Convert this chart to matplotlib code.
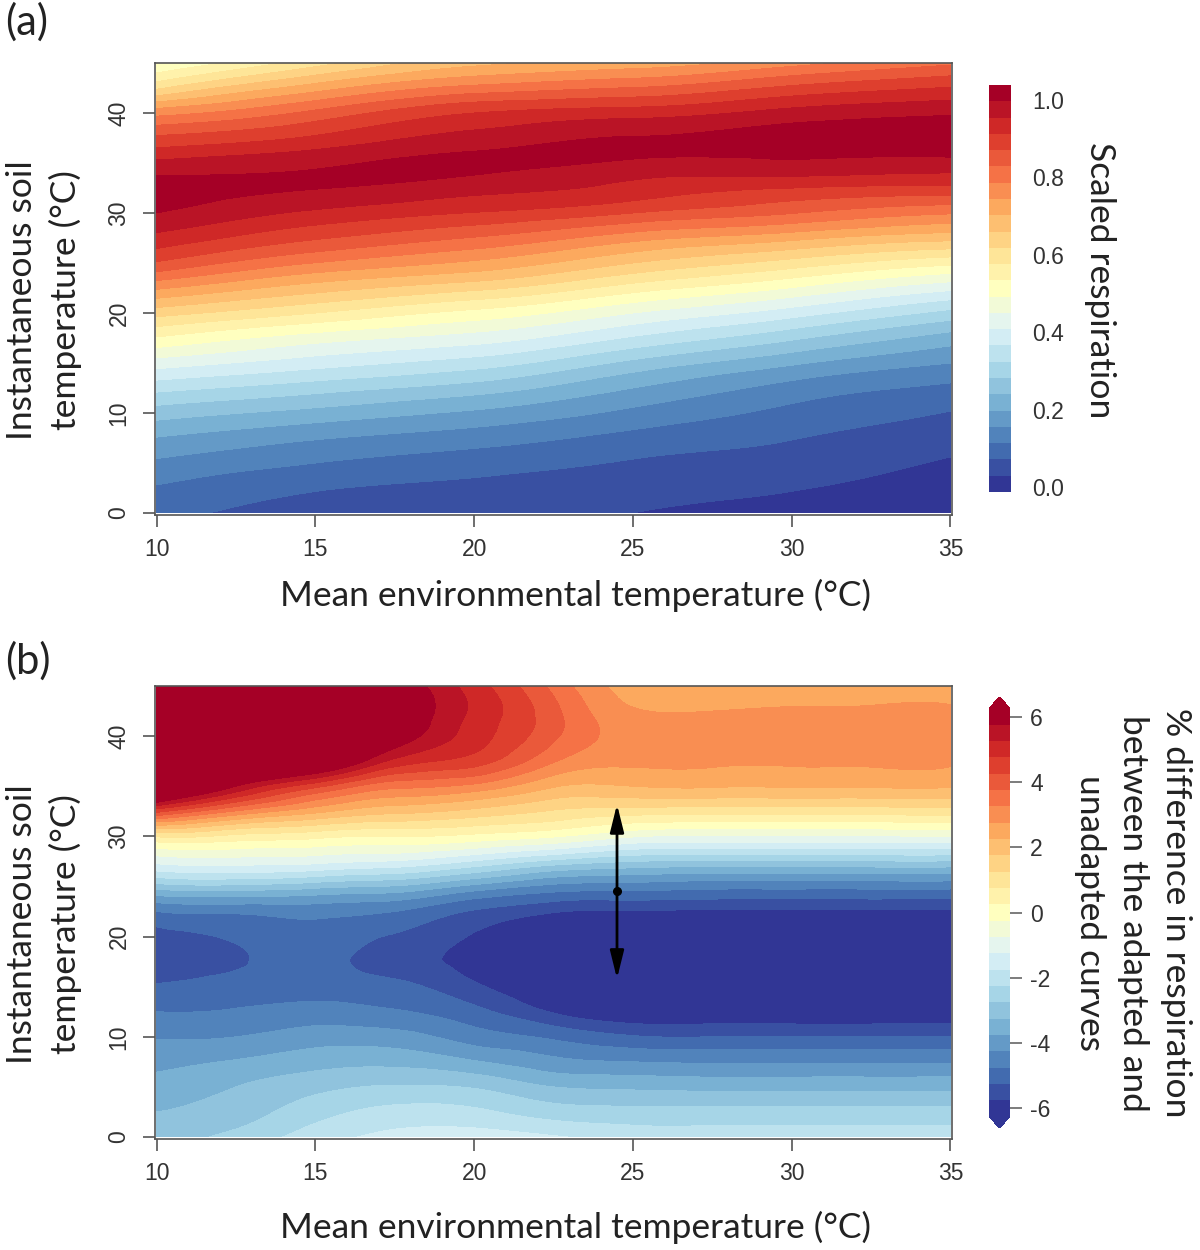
import numpy as np
import matplotlib
matplotlib.use('Agg')
import matplotlib.pyplot as plt
import matplotlib.tri as mtri
from matplotlib.cm import ScalarMappable
from matplotlib.colors import BoundaryNorm, ListedColormap

plt.rcParams['font.family'] = ['Liberation Sans', 'DejaVu Sans']

W, H = 1200, 1250
INK = '#333333'
LABEL_FONT = 'Lato'

# each list is one column of soil temperatures
soil_temp_a = [0, 2.5, 5, 7.5, 10, 12.5, 15, 17.5, 20, 22.5, 25, 27.5, 30, 32, 34, 36, 38, 40, 42.5, 45]
env_temp_a = [10, 15, 20, 25, 30, 35]
resp_10 = [.08, .11, .148, .196, .26, .338, .43, .53, .635, .75, .865, .94, .996, 1.015, .99, .93, .86, .77, .61, .49]
resp_15 = [.055, .076, .114, .16, .225, .30, .385, .47, .576, .68, .785, .875, .945, .99, 1.0, .964, .905, .84, .725, .60]
resp_20 = [.04, .062, .09, .134, .19, .262, .345, .43, .52, .63, .735, .825, .91, .96, .999, .999, .96, .912, .80, .69]
resp_25 = [.03, .047, .068, .10, .145, .198, .27, .36, .45, .555, .66, .76, .87, .93, .968, 1.005, .99, .935, .83, .72]
resp_30 = [.01, .033, .052, .074, .102, .14, .205, .29, .385, .49, .60, .715, .83, .895, .965, 1.005, 1.01, .97, .88, .77]
resp_35 = [-.005, .01, .025, .048, .07, .105, .156, .22, .31, .42, .545, .675, .79, .88, .954, 1.005, 1.03, .99, .915, .82]

soil_temp_b = [0, 2.5, 5, 7.5, 10, 12.5, 15, 17.5, 20, 22.5, 25, 27.5, 30, 32.5, 35, 37.5, 40, 42.5, 45]
env_temp_b = [10, 12.5, 15, 17.5, 20, 22.5, 25, 27.5, 30, 32.5, 35]
diff_100 = [-3.0, -3.25, -3.55, -3.9, -4.3, -4.75, -5.2, -5.5, -5.4, -4.75, -3.0, -1.1, .8, 4.4, 7.5, 8.0, 8.5, 8.5, 8.0]
diff_125 = [-2.6, -3.0, -3.25, -3.7, -4.25, -4.7, -5.05, -5.3, -5.2, -4.65, -2.9, -1.0, .6, 3.2, 5.75, 7.5, 8.8, 8.8, 8.3]
diff_150 = [-2.0, -2.45, -2.9, -3.45, -4.0, -4.55, -4.95, -5.1, -5.0, -4.55, -3.1, -1.1, .4, 2.4, 4.4, 7.0, 8.2, 8.3, 7.8]
diff_175 = [-1.6, -2.1, -2.7, -3.4, -4.05, -4.7, -5.1, -5.5, -5.3, -4.75, -3.3, -1.3, .25, 1.9, 3.4, 5.1, 6.2, 6.5, 6.3]
diff_200 = [-1.5, -2.15, -2.8, -3.7, -4.5, -5.1, -5.65, -5.95, -5.8, -5.3, -3.9, -1.8, .1, 1.6, 3.1, 4.5, 5.0, 5.15, 5.0]
diff_225 = [-1.7, -2.5, -3.25, -4.1, -4.85, -5.8, -6.4, -6.7, -6.5, -5.7, -4.4, -2.4, -.2, 1.2, 2.3, 3.3, 3.85, 3.9, 3.6]
diff_250 = [-1.95, -2.6, -3.35, -4.25, -5.2, -6.2, -6.8, -7.0, -6.8, -5.8, -4.5, -2.75, -.7, 1.0, 2.25, 2.85, 3.05, 2.8, 2.55]
diff_275 = [-2.0, -2.6, -3.4, -4.3, -5.25, -6.2, -6.9, -7.2, -6.9, -5.85, -4.6, -2.8, -.8, .95, 2.3, 2.82, 3.0, 2.75, 2.5]
diff_300 = [-2.0, -2.6, -3.4, -4.3, -5.25, -6.2, -6.9, -7.2, -6.9, -5.85, -4.6, -2.8, -.8, .95, 2.3, 2.82, 3.0, 2.8, 2.55]
diff_325 = [-2.0, -2.6, -3.4, -4.3, -5.25, -6.2, -6.9, -7.2, -6.9, -5.85, -4.6, -2.8, -.8, .95, 2.3, 2.82, 3.0, 2.82, 2.55]
diff_350 = [-2.0, -2.6, -3.4, -4.3, -5.25, -6.2, -6.9, -7.2, -6.9, -5.85, -4.6, -2.8, -.75, 1.0, 2.3, 2.82, 3.0, 2.82, 2.55]

x_ticks = [10, 15, 20, 25, 30, 35]
y_ticks = [0, 10, 20, 30, 40]
cbar_ticks_a = [0, 0.2, 0.4, 0.6, 0.8, 1.0]
cbar_ticks_b = [-6, -4, -2, 0, 2, 4, 6]

levels_a = np.linspace(-0.012, 1.038, 26)
levels_b = np.linspace(-6.25, 6.25, 26)
arrow_x, arrow_mid, arrow_top, arrow_bottom = 24.5, 24.5, 33.2, 15.8


def px_axes(fig, left, top, right, bottom):
    '''Axes from pixel edges, y counted from the top'''
    return fig.add_axes([left/W, 1-bottom/H, (right-left)/W, (bottom-top)/H])


def smooth_contour(ax, xs, ys, rows, levels, cmap, norm):
    '''Filled contours on the read-off table, smoothed with matplotlib's refiner'''
    gx, gy = np.meshgrid(xs, ys)
    tri = mtri.Triangulation(gx.ravel(), gy.ravel())
    refiner = mtri.UniformTriRefiner(tri)
    fine_tri, fine_z = refiner.refine_field(np.array(rows).T.ravel(), subdiv=4)
    ax.tricontourf(fine_tri, fine_z, levels=levels, cmap=cmap, norm=norm, extend='both')


def style_axes(ax, bottom_lim):
    ax.set_xlim(9.95, 35.05)
    ax.set_ylim(bottom_lim, 45)
    ax.set_xticks(x_ticks)
    ax.set_yticks(y_ticks)
    ax.tick_params(axis='both', length=8.6, width=1.2, color='#555555', labelcolor=INK, labelsize=16.5)
    ax.tick_params(axis='x', pad=8)
    ax.tick_params(axis='y', pad=9)
    for t in ax.get_yticklabels():
        t.set_rotation(90)
        t.set_va('center')
    for s in ax.spines.values():
        s.set_color('#555555')
        s.set_linewidth(1.2)


def make_cmap():
    cols = plt.get_cmap('RdYlBu_r', 25)(np.arange(25))
    cmap = ListedColormap(cols)
    cmap.set_under(cols[0])
    cmap.set_over(cols[-1])
    return cmap


fig = plt.figure(figsize=(W/100, H/100), dpi=100)
cmap = make_cmap()

# panel a
norm_a = BoundaryNorm(levels_a, 25)
ax_a = px_axes(fig, 155, 63, 952, 515)
smooth_contour(ax_a, env_temp_a, soil_temp_a, [resp_10, resp_15, resp_20, resp_25, resp_30, resp_35],
               levels_a, cmap, norm_a)
style_axes(ax_a, -0.2)

cax_a = px_axes(fig, 989, 85, 1011, 492)
cb_a = fig.colorbar(ScalarMappable(norm=norm_a, cmap=cmap), cax=cax_a, spacing='proportional', ticks=cbar_ticks_a)
cb_a.ax.minorticks_off()
cb_a.ax.set_yticklabels(['0.0', '0.2', '0.4', '0.6', '0.8', '1.0'])
cb_a.ax.tick_params(length=0, pad=15, labelsize=16.5, labelcolor=INK)
cb_a.outline.set_visible(False)

# panel b
norm_b = BoundaryNorm(levels_b, 25)
ax_b = px_axes(fig, 155, 686, 952, 1139)
smooth_contour(ax_b, env_temp_b, soil_temp_b,
               [diff_100, diff_125, diff_150, diff_175, diff_200, diff_225,
                diff_250, diff_275, diff_300, diff_325, diff_350],
               levels_b, cmap, norm_b)
style_axes(ax_b, -0.2)

for tip in (arrow_top, arrow_bottom):
    ax_b.annotate('', xy=(arrow_x, tip), xytext=(arrow_x, arrow_mid),
                  arrowprops=dict(arrowstyle='-|>,head_length=1.05,head_width=0.26', color='black',
                                  lw=2, shrinkA=0, shrinkB=0, mutation_scale=16))
ax_b.plot([arrow_x], [arrow_mid], 'o', color='black', ms=5.5)

cax_b = px_axes(fig, 989, 697, 1010, 1128)
cb_b = fig.colorbar(ScalarMappable(norm=norm_b, cmap=cmap), cax=cax_b, spacing='proportional',
                    ticks=cbar_ticks_b, extend='both', extendfrac=0.028)
cb_b.ax.minorticks_off()
cb_b.ax.tick_params(length=8.6, width=1.2, color='#666666', pad=6, labelsize=16.5, labelcolor=INK)
cb_b.ax.set_yticklabels(['-6', '-4', '-2', '0', '2', '4', '6'])
cb_b.outline.set_visible(False)

# texts
def label(x, y, s, rot=0, size=25.5, ha='center', va='center', ls=1.42):
    fig.text(x/W, 1-y/H, s, rotation=rot, fontsize=size, ha=ha, va=va, family=LABEL_FONT,
             color='#222222', linespacing=ls, multialignment='center')


label(5, 22, '(a)', ha='left', size=30)
label(5, 661, '(b)', ha='left', size=30)
label(575, 595, 'Mean environmental temperature (°C)')
label(575, 1227, 'Mean environmental temperature (°C)')
label(44, 300, 'Instantaneous soil\ntemperature (°C)', rot=90)
label(44, 924, 'Instantaneous soil\ntemperature (°C)', rot=90)
label(1100, 280, 'Scaled respiration', rot=-90)
label(1133, 913, '% difference in respiration\nbetween the adapted and\nunadapted curves', rot=-90)

fig.savefig('out.png', dpi=100)
